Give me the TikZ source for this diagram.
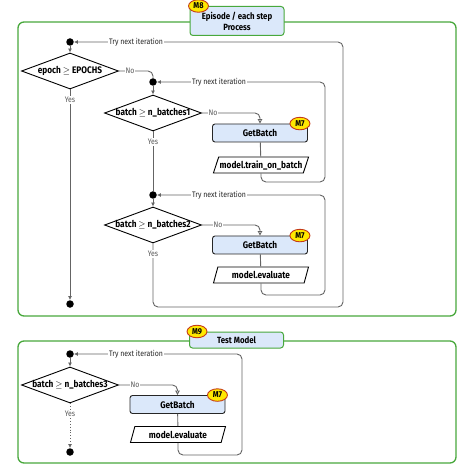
\documentclass[tikz,border=0pt]{standalone}
\usepackage{amsmath}
\usepackage{fontspec}
\setmainfont{Fira Sans}[FakeStretch=0.87]
\usetikzlibrary{arrows.meta,shapes.geometric,calc}
\definecolor{frameGreen}{RGB}{72,168,60}
\definecolor{paleBlue}{RGB}{219,232,250}
\definecolor{badgeYellow}{RGB}{255,232,0}
\definecolor{badgeRed}{RGB}{196,58,24}
\definecolor{loopGray}{RGB}{100,100,100}

\begin{document}
\begin{tikzpicture}[x=1pt,y=-1pt]
  \tikzset{
    frame/.style={draw=frameGreen, line width=1.3pt, rounded corners=6pt},
    title/.style={draw=frameGreen, line width=1pt, fill=paleBlue, rounded corners=3pt, minimum width=94pt, align=center, inner sep=1pt, font=\bfseries\fontsize{9}{11}\selectfont},
    badge/.style={draw=badgeRed, fill=badgeYellow, ellipse, line width=0.9pt, inner xsep=0pt, inner ysep=0pt, minimum height=12.5pt, minimum width=20pt, font=\bfseries\fontsize{8.5}{9}\selectfont},
    decision/.style={draw, diamond, fill=white, minimum width=97pt, minimum height=36pt, inner sep=0pt, line width=0.9pt},
    dlabel/.style={inner sep=0pt, font=\bfseries\fontsize{9.5}{10}\selectfont},
    proc/.style={draw=black!85, fill=paleBlue, rounded corners=2.5pt, minimum width=95pt, minimum height=18pt, line width=0.9pt, font=\bfseries\fontsize{9.5}{10}\selectfont},
    io/.style={draw, trapezium, trapezium left angle=65, trapezium right angle=115, trapezium stretches body, fill=white, minimum width=95pt, minimum height=16pt, inner sep=1pt, line width=0.9pt, font=\bfseries\fontsize{9.5}{10}\selectfont},
    junction/.style={circle, fill=black, minimum size=7.5pt, inner sep=0pt},
    line/.style={draw=loopGray, line width=0.9pt, rounded corners=5pt},
    arrowin/.style={-{Latex[length=4pt,width=4pt]}},
    openarrow/.style={-{Triangle[open,length=4.5pt,width=4.5pt]}},
    lbl/.style={fill=white, inner sep=1.5pt, text=black!85, font=\fontsize{8}{9}\selectfont},
    yesno/.style={fill=white, inner sep=1pt, text=black!65, font=\fontsize{8}{9}\selectfont},
  }
  \useasboundingbox (0,0) rectangle (474,465);

  % episode frame
  \draw[frame] (18,22) rectangle (456,316);
  \node[title, minimum height=29pt] (ttl1) at (237,21) {Episode / each step\\Process};
  \node[badge] (m8) at ($(ttl1.north west)+(9,0)$) {M8};

  \node[junction] (j1) at (70,42) {};
  \node[decision, label={[dlabel]center:epoch $\geq$ EPOCHS}] (ep) at (70,71) {};
  \node[junction] (j2) at (153,82) {};
  \node[decision, label={[dlabel]center:batch $\geq$ n\_batches1}] (b1) at (153,113) {};
  \node[proc] (gb1) at (260,133) {GetBatch};
  \node[io] (mt) at (261,165) {model.train\_on\_batch};
  \node[badge] (m7a) at ($(gb1.north east)+(-8,0)$) {M7};
  \node[junction] (j3) at (153,195) {};
  \node[decision, label={[dlabel]center:batch $\geq$ n\_batches2}] (b2) at (153,225) {};
  \node[proc] (gb2) at (260,245) {GetBatch};
  \node[io] (me1) at (261,275) {model.evaluate};
  \node[badge] (m7b) at ($(gb2.north east)+(-8,0)$) {M7};
  \node[junction] (j4) at (70,304) {};
  \coordinate (c1) at (325,182);
  \coordinate (c2) at (325,295);
  \coordinate (c3) at (343,307);

  \path[line, arrowin] (j1) -- (ep);
  \path[line] (ep) -| (j2);
  \path[line, arrowin] (ep) -- (j4);
  \path[line, arrowin] (j2) -- (b1);
  \path[line, openarrow] (b1) -| (gb1);
  \path[line] (gb1) -- (mt);
  \path[line, arrowin] (mt) |- (c1) |- (j2);
  \path[line] (b1) -- (j3);
  \path[line, arrowin] (j3) -- (b2);
  \path[line, openarrow] (b2) -| (gb2);
  \path[line] (gb2) -- (me1);
  \path[line, arrowin] (me1) |- (c2) |- (j3);
  \path[line, arrowin] (b2) |- (c3) |- (j1);

  \node[lbl] (try1) at (136,42) {Try next iteration};
  \node[lbl] (try2) at (219,82) {Try next iteration};
  \node[lbl] (try3) at (219,195) {Try next iteration};
  \node[yesno] (no1) at (130,71) {No};
  \node[yesno] (no2) at (213,113) {No};
  \node[yesno] (no3) at (218,225) {No};
  \node[yesno] (yes1) at (70,100) {Yes};
  \node[yesno] (yes2) at (153,142) {Yes};
  \node[yesno] (yes3) at (153,254) {Yes};

  % test frame
  \draw[frame] (18,341) rectangle (456,463);
  \node[title, minimum height=16pt] (ttl2) at (236.5,340) {Test Model};
  \node[badge] (m9) at ($(ttl2.north west)+(8,0)$) {M9};

  \node[junction] (j5) at (70,354) {};
  \node[decision, label={[dlabel]center:batch $\geq$ n\_batches3}] (b3) at (70,385) {};
  \node[proc] (gb3) at (177.5,404.5) {GetBatch};
  \node[io] (me2) at (178,434.5) {model.evaluate};
  \node[badge] (m7c) at ($(gb3.north east)+(-8,0)$) {M7};
  \node[junction] (j6) at (70,452) {};
  \coordinate (c4) at (242,455);

  \path[line, arrowin] (j5) -- (b3);
  \path[line, openarrow] (b3) -| (gb3);
  \path[line] (gb3) -- (me2);
  \path[line, arrowin] (me2) |- (c4) |- (j5);
  \path[line, arrowin, dotted] (b3) -- (j6);

  \node[lbl] (try4) at (136,354) {Try next iteration};
  \node[yesno] (no4) at (135,385) {No};
  \node[yesno] (yes4) at (70,414) {Yes};
\end{tikzpicture}
\end{document}
